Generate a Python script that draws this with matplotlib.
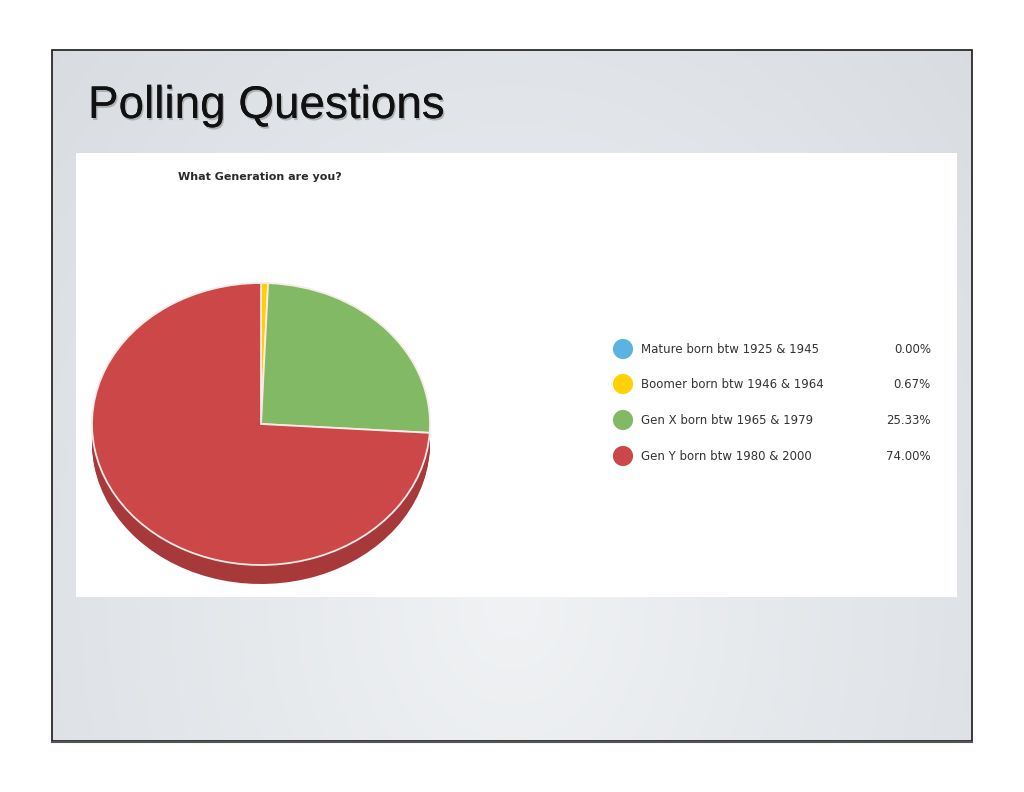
import numpy as np
import matplotlib
matplotlib.use("Agg")
import matplotlib.pyplot as plt
from matplotlib.patches import Rectangle
import matplotlib.patheffects as pe

# ---- data ----
categories = ["Mature born btw 1925 & 1945", "Boomer born btw 1946 & 1964",
              "Gen X born btw 1965 & 1979", "Gen Y born btw 1980 & 2000"]
values = [0.00, 0.67, 25.33, 74.00]
pct_labels = ["0.00%", "0.67%", "25.33%", "74.00%"]
top_colors = ["#5AB3E0", "#FFD100", "#82B964", "#CC4747"]
side_colors = ["#3F8FB8", "#D4AC00", "#5E9445", "#A8393B"]
slide_title = "Polling Questions"
chart_title = "What Generation are you?"

W, H = 1024, 792
fig = plt.figure(figsize=(W / 100, H / 100), dpi=100)
fig.patch.set_facecolor("white")

# background axes in pixel coordinates (y down)
bg = fig.add_axes([0, 0, 1, 1])
bg.set_xlim(0, W)
bg.set_ylim(H, 0)
bg.axis("off")

# slide gradient
sx0, sy0, sx1, sy1 = 52, 50, 972, 741
gh, gw = 200, 260
yy, xx = np.mgrid[0:gh, 0:gw]
u = (xx / (gw - 1) - 0.5) * 2.0
v = (yy / (gh - 1))
d = np.sqrt((u * 0.85) ** 2 + ((v - 0.8) * 1.0) ** 2)
d = np.clip(d, 0, 1.2) / 1.2
c_in = np.array([240, 242, 244]) / 255.0
c_out = np.array([216, 220, 225]) / 255.0
img = c_in[None, None, :] * (1 - d[..., None]) + c_out[None, None, :] * d[..., None]
bg.imshow(img, extent=(sx0, sx1, sy1, sy0), aspect="auto", zorder=0, interpolation="bicubic")
bg.add_patch(Rectangle((sx0, sy0), sx1 - sx0, sy1 - sy0, fill=False,
                       edgecolor="#1a1a1a", linewidth=1.2, zorder=3))
bg.plot([sx0, sx1], [sy1 + 0.5, sy1 + 0.5], color="#555555", lw=1.5, zorder=3)

# white panel
bg.add_patch(Rectangle((76, 153), 957 - 76, 597 - 153, facecolor="white",
                       edgecolor="none", zorder=1))

# slide title with soft shadow
bg.text(88, 118, slide_title, fontsize=33, family="Liberation Sans",
        color="#111111", ha="left", va="baseline", zorder=4,
        path_effects=[pe.withSimplePatchShadow(offset=(1, -1.5), shadow_rgbFace="#000000",
                                               alpha=0.22), pe.Normal()])

# chart title
bg.text(260, 176.5, chart_title, fontsize=8.0, family="DejaVu Sans", fontweight="bold",
        color="#2a2a2a", ha="center", va="center", zorder=4)

# legend
leg_y = [349, 384, 420, 456]
bg.scatter([623] * len(leg_y), leg_y, s=210, c=top_colors, edgecolors="none", zorder=4)
for yv, lab, pl in zip(leg_y, categories, pct_labels):
    bg.text(641, yv + 0.5, lab, fontsize=8.5, family="DejaVu Sans", color="#333333",
            ha="left", va="center", zorder=4)
    bg.text(931, yv + 0.5, pl, fontsize=8.5, family="DejaVu Sans", color="#333333",
            ha="right", va="center", zorder=4)

# ---- 3D-looking pie ----
cx, cy, rx, ry = 261, 424, 169, 141
depth_px = 19
lim = 1.25
axw, axh = 2 * lim * rx, 2 * lim * ry
pax = fig.add_axes([(cx - axw / 2) / W, (H - cy - axh / 2) / H, axw / W, axh / H])
pax.axis("off")
depth = depth_px / ry
for k in np.linspace(depth, 0.0, 14):
    pax.pie(values, colors=side_colors, startangle=90, counterclock=False,
            center=(0, -k), radius=1.0,
            wedgeprops=dict(linewidth=0, edgecolor="none"))
pax.pie(values, colors=top_colors, startangle=90, counterclock=False,
        center=(0, 0), radius=1.0,
        wedgeprops=dict(linewidth=1.3, edgecolor="#FBEAEA"))
pax.set_aspect("auto")
pax.set_xlim(-lim, lim)
pax.set_ylim(-lim, lim)

fig.savefig("out.png", dpi=100, facecolor="white")
